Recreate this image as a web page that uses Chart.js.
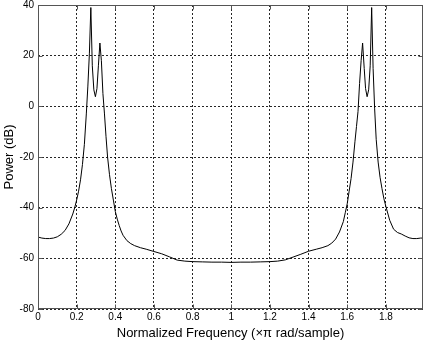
<!DOCTYPE html>
<html>
<head>
<meta charset="utf-8">
<script src="https://cdn.jsdelivr.net/npm/chart.js@4/dist/chart.umd.min.js"></script>
<style>
  html, body { margin: 0; padding: 0; background: #fff; }
  #wrap { width: 425px; height: 341px; position: relative; }
</style>
</head>
<body>
<div id="wrap"><canvas id="c"></canvas></div>
<script>
// Normalized frequency (x pi rad/sample)
const freq = [
  0, 0.02, 0.04, 0.06, 0.08, 0.10, 0.12, 0.14, 0.16, 0.18, 0.19, 0.20, 0.21, 0.22, 0.23, 0.24, 0.25,
  0.258, 0.266, 0.2734, 0.281, 0.289, 0.297, 0.305, 0.3125, 0.3203, 0.328, 0.336, 0.344, 0.352, 0.36,
  0.37, 0.38, 0.39, 0.40, 0.41, 0.42, 0.43, 0.44, 0.46, 0.48, 0.50, 0.53, 0.56, 0.60, 0.64, 0.68, 0.72, 0.76,
  0.80, 0.85, 0.90, 0.95, 1.00,
  1.05, 1.10, 1.15, 1.20, 1.24, 1.28, 1.32, 1.36, 1.40, 1.44, 1.47, 1.50, 1.52, 1.54, 1.56, 1.58, 1.59,
  1.60, 1.61, 1.62, 1.63, 1.64, 1.648, 1.656, 1.664, 1.672, 1.6797, 1.688, 1.695, 1.703, 1.711, 1.719,
  1.7266, 1.734, 1.742, 1.75, 1.76, 1.77, 1.78, 1.79, 1.80, 1.82, 1.84, 1.86, 1.88, 1.90, 1.92, 1.94,
  1.96, 1.98, 1.9922
];
// Power (dB)
const power = [
  -51.6, -52.0, -52.2, -52.2, -52.0, -51.5, -50.5, -49.0, -46.4, -42.5, -40.0, -37.0, -33.5, -29.0, -23.0, -15.0, -3.0,
  8.0, 21.0, 39.0, 16.0, 6.5, 3.8, 7.0, 16.0, 25.0, 18.0, 5.0, -3.0, -12.0, -20.0,
  -27.0, -32.5, -37.0, -41.5, -44.5, -47.0, -49.2, -50.9, -53.0, -54.2, -55.0, -55.8, -56.4, -57.3, -58.2, -59.4, -60.7, -61.1,
  -61.3, -61.4, -61.5, -61.5, -61.6,
  -61.5, -61.5, -61.4, -61.3, -61.1, -60.6, -59.5, -58.4, -57.2, -56.4, -55.8, -55.0, -54.0, -52.4, -49.6, -45.5, -42.0,
  -38.5, -33.5, -28.5, -22.0, -14.0, -8.0, -2.0, 9.0, 18.0, 25.0, 15.0, 7.0, 3.8, 6.5, 16.0,
  39.0, 15.0, -1.0, -13.0, -22.0, -28.0, -32.5, -36.5, -39.5, -45.0, -48.5, -49.8, -50.4, -51.2, -51.9, -52.2,
  -52.2, -52.0, -52.0
];
const xTicks = [0, 0.2, 0.4, 0.6, 0.8, 1, 1.2, 1.4, 1.6, 1.8];
const yTicks = [-80, -60, -40, -20, 0, 20, 40];
const xLabel = 'Normalized Frequency (\u00d7\u03c0 rad/sample)';
const yLabel = 'Power (dB)';

const FONT = '"Liberation Sans", Arial, Helvetica, sans-serif';

const boxPlugin = {
  id: 'box',
  afterDraw(chart) {
    const {ctx, chartArea: a, scales} = chart;
    ctx.save();
    ctx.strokeStyle = '#555';
    ctx.lineWidth = 1;
    ctx.setLineDash([]);
    const L = Math.round(a.left) + 0.5, R = Math.round(a.right) - 0.5;
    const T = Math.round(a.top) + 0.5, B = Math.round(a.bottom) - 0.5;
    ctx.strokeRect(L, T, R - L, B - T);
    ctx.beginPath();
    const tl = 4;
    xTicks.forEach(v => {
      const px = Math.round(scales.x.getPixelForValue(v)) + 0.5;
      ctx.moveTo(px, B); ctx.lineTo(px, B - tl);
      ctx.moveTo(px, T); ctx.lineTo(px, T + tl);
    });
    yTicks.forEach(v => {
      const py = Math.round(scales.y.getPixelForValue(v)) + 0.5;
      ctx.moveTo(L, py); ctx.lineTo(L + tl, py);
      ctx.moveTo(R, py); ctx.lineTo(R - tl, py);
    });
    ctx.stroke();
    ctx.restore();
  }
};

new Chart(document.getElementById('c'), {
  type: 'line',
  data: {
    datasets: [{
      data: freq.map((f, i) => ({x: f, y: power[i]})),
      borderColor: '#000',
      borderWidth: 1,
      pointRadius: 0,
      tension: 0,
      fill: false
    }]
  },
  options: {
    responsive: true,
    maintainAspectRatio: false,
    animation: false,
    devicePixelRatio: 1,
    layout: { padding: { left: 0, right: 2, top: 5, bottom: 0 } },
    plugins: { legend: { display: false }, tooltip: { enabled: false } },
    scales: {
      x: {
        type: 'linear',
        min: 0,
        max: 1.9922,
        afterBuildTicks: s => { s.ticks = xTicks.map(v => ({value: v})); },
        afterFit: s => { s.height = 32; s.paddingLeft = 0; s.paddingRight = 0; },
        ticks: {
          autoSkip: false,
          maxRotation: 0,
          padding: 3,
          color: '#000',
          font: { family: FONT, size: 10, lineHeight: 1 },
          callback: v => String(v)
        },
        grid: { color: 'rgba(0,0,0,0.85)', lineWidth: 1, drawTicks: false },
        border: { display: false, dash: [2, 2] },
        title: {
          display: true, text: xLabel, color: '#000',
          font: { family: FONT, size: 13 }, padding: { top: 0, bottom: 0 }
        }
      },
      y: {
        min: -80,
        max: 40,
        afterBuildTicks: s => { s.ticks = yTicks.map(v => ({value: v})); },
        afterFit: s => { s.width = 38; s.paddingTop = 0; s.paddingBottom = 0; },
        ticks: {
          padding: 4,
          color: '#000',
          font: { family: FONT, size: 10, lineHeight: 1 },
          callback: v => String(v)
        },
        grid: { color: 'rgba(0,0,0,0.85)', lineWidth: 1, drawTicks: false },
        border: { display: false, dash: [2, 2] },
        title: {
          display: true, text: yLabel, color: '#000',
          font: { family: FONT, size: 13 }, padding: { top: 2, bottom: 0 }
        }
      }
    }
  },
  plugins: [boxPlugin]
});
</script>
</body>
</html>
